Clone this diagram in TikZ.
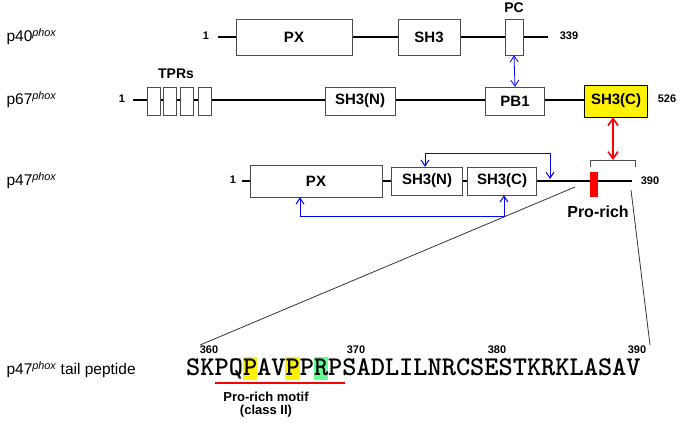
\documentclass[tikz,border=0pt]{standalone}
\usepackage{fontspec}
\setmainfont{Liberation Sans}
\usetikzlibrary{arrows.meta}
\begin{document}
\begin{tikzpicture}[x=1pt,y=-1pt,
  dom/.style={draw=black!70,fill=white,font=\bfseries\fontsize{15}{15}\selectfont},
  num/.style={font=\bfseries\fontsize{11}{11}\selectfont},
  prot/.style={font=\fontsize{15.5}{15}\selectfont,anchor=west},
  bbl/.style={blue,line width=1pt,{Straight Barb[length=6pt,width=8pt]}-{Straight Barb[length=6pt,width=8pt]}}]
\useasboundingbox (0,0) rectangle (685,423);
% labels
\node[prot] (l40) at (3,37) {p40\textsuperscript{\itshape phox}};
\node[prot] (l67) at (3,100) {p67\textsuperscript{\itshape phox}};
\node[prot] (l47) at (3,181) {p47\textsuperscript{\itshape phox}};
\node[prot] (lt) at (3,370) {p47\textsuperscript{\itshape phox} tail peptide};
% p40
\draw[line width=1.2pt] (218,37) -- (548,37);
\node[num] (n40a) at (206,36) {1};
\node[num] (n40b) at (569,36) {339};
\node[dom,minimum width=116,minimum height=36] (px40) at (294,37) {PX};
\node[dom,minimum width=62,minimum height=36] (sh40) at (429,37) {SH3};
\node[dom,minimum width=18,minimum height=36] (pc) at (514,37) {};
\node[font=\bfseries\fontsize{14}{14}\selectfont] (pcl) at (514,8) {PC};
% p67
\draw[line width=1.2pt] (133,100) -- (585,100);
\node[num] (n67a) at (122,99) {1};
\node[num] (n67b) at (667,99) {526};
\foreach \i/\x in {1/153.5,2/169.5,3/186.5,4/204.5}
  \node[dom,minimum width=13,minimum height=28,inner sep=0] (t\i) at (\x,101) {};
\node[font=\bfseries\fontsize{14}{14}\selectfont] (tpr) at (176,74) {TPRs};
\node[dom,minimum width=70,minimum height=28,inner sep=0] (sh67n) at (360,101) {SH3(N)};
\node[dom,minimum width=59,minimum height=28,inner sep=0] (pb1) at (515,101) {PB1};
\node[dom,fill=yellow,draw=black,minimum width=63,minimum height=32,inner sep=0] (sh67c) at (616,101) {SH3(C)};
\draw[bbl,line width=0.8pt] (pc.south) -- (pb1.north);
% p47
\draw[line width=1.2pt] (242,181) -- (632,181);
\node[num] (n47a) at (233,180) {1};
\node[num] (n47b) at (650,181) {390};
\node[dom,minimum width=132,minimum height=32,inner sep=0] (px47) at (316,181) {PX};
\node[dom,minimum width=71,minimum height=28,inner sep=0] (sh47n) at (427,181) {SH3(N)};
\node[dom,minimum width=69,minimum height=28,inner sep=0] (sh47c) at (502,181) {SH3(C)};
\node[fill=red,minimum width=8,minimum height=25,inner sep=0] (pr) at (594,184) {};
\node[font=\bfseries\fontsize{16}{16}\selectfont] (prl) at (598,212) {Pro-rich};
\coordinate (b1) at (590,167); \coordinate (b2) at (635,167);
\draw[black!70,line width=0.8pt] (b1) -- ++(0,-7) -- (635,160) -- (b2);
\coordinate (bm) at (613,160);
\draw[red,line width=1.6pt,{Straight Barb[length=7pt,width=10pt]}-{Straight Barb[length=7pt,width=10pt]}] (sh67c.south -| bm) -- (bm);
\coordinate (ba) at (550,179);
\draw[bbl] (sh47n.north -| 425,0) -- (425,153) -- (550,153) -- (ba);
\draw[bbl] (px47.south -| 300,0) -- (300,216) -- (504,216) -- (sh47c.south -| 504,0);
% zoom lines
\coordinate (z1) at (575,187); \coordinate (z2) at (200,345);
\coordinate (z3) at (631,190); \coordinate (z4) at (650,345);
\draw[black!80,line width=0.8pt] (z1) -- (z2);
\draw[black!80,line width=0.8pt] (z3) -- (z4);
% sequence
\def\cw{14.2}
\fill[yellow] (186+4*\cw,357) rectangle ++(\cw,23);
\fill[yellow] (186+7*\cw,357) rectangle ++(\cw,23);
\fill[green!70!cyan!60] (186+9*\cw,357) rectangle ++(\cw,23);
\node[anchor=west,inner sep=0,font=\ttfamily\bfseries\fontsize{27.05}{27}\selectfont] (seq) at (186,369) {SKPQPAVPPRPSADLILNRCSESTKRKLASAV};
\node[num] (s360) at (209,350) {360};
\node[num] (s370) at (356,350) {370};
\node[num] (s380) at (497,350) {380};
\node[num] (s390) at (637,350) {390};
\coordinate (u1) at (215,383); \coordinate (u2) at (345,383);
\draw[red,line width=1.2pt] (u1) -- (u2);
\node[font=\bfseries\fontsize{13}{13}\selectfont,align=center] (mot) at (266,405) {Pro-rich motif\\(class II)};
\end{tikzpicture}
\end{document}
